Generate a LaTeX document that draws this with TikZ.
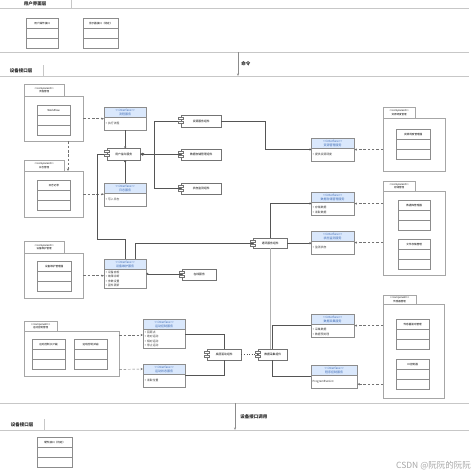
\documentclass[tikz,border=0pt]{standalone}
\usepackage{fontspec}
\setmainfont{Noto Sans CJK SC}
\usetikzlibrary{positioning,calc,arrows.meta,shapes.multipart}
\setlength\parindent{0pt}

\definecolor{ifblue}{RGB}{218,232,252}
\definecolor{iftext}{RGB}{60,105,180}
\definecolor{linegray}{RGB}{85,85,85}

\newcommand\clsstrut{\rule[-1.5pt]{0pt}{5.5pt}}
\newcommand\clsparts[1]{\clsstrut #1\nodepart{two}\clsstrut\nodepart{three}\clsstrut}
\newcommand\ifacehead[1]{\fontsize{3}{3.8}\selectfont\color{iftext}%
  \makebox[\hsize][c]{<{}<interface>{}>}\par\makebox[\hsize][c]{#1}}
\newcommand\onestrut{\rule[-4pt]{0pt}{9pt}}
\newcommand\compicon[1]{%
  \draw[cmpicon] ($(#1.north west)+(-2.5,2)$) rectangle ++(5,2.2);
  \draw[cmpicon] ($(#1.north west)+(-2.5,6)$) rectangle ++(5,2.2);}

\begin{document}
\begin{tikzpicture}[x=1pt,y=-1pt,
   font=\fontsize{3}{3.6}\selectfont,
   band/.style={draw=black!22, line width=0.9pt},
   bandlbl/.style={font=\fontsize{4.5}{5}\selectfont\bfseries, text=black!85, inner sep=0},
   cls/.style={rectangle split, rectangle split parts=3, draw=black!45, line width=0.4pt,
	 fill=white, text width=#1, inner xsep=1pt, inner ysep=2pt, align=center,
	 anchor=north west, font=\fontsize{2.6}{3}\selectfont},
   cls/.default=31pt,
   iface/.style={rectangle split, rectangle split parts=2, draw=black!45, line width=0.4pt,
	 rectangle split part fill={ifblue,white}, text width=#1, inner xsep=1.5pt, inner ysep=1.5pt,
	 align=left, anchor=north west, font=\fontsize{2.8}{4.3}\selectfont},
   iface/.default=39pt,
   pkgbody/.style={draw=black!35, line width=0.4pt, anchor=north west, inner sep=0},
   pkgtab/.style={draw=black!35, line width=0.4pt, anchor=north west, inner sep=0,
	 align=center, font=\fontsize{2.5}{3.2}\selectfont},
   comp/.style={draw=black!55, line width=0.4pt, fill=white, anchor=north west, inner sep=0,
	 font=\fontsize{2.8}{3}\selectfont},
   cmpicon/.style={draw=black!55, line width=0.35pt, fill=white},
   link/.style={draw=linegray, line width=0.55pt},
   dep/.style={draw=black!55, line width=0.45pt, dash pattern=on 2.5pt off 1.8pt,
	 -{Stealth[length=2.5pt,width=2.2pt]}},
   lolli/.style={-{Circle[open,length=2pt]}},
   flow/.style={draw=black!45, line width=0.5pt, -{Stealth[length=2.5pt,width=2pt]}}]
\useasboundingbox (0,0) rectangle (474,474);

% layer bands
\draw[band] (0,8) -- (469,8);
\draw[band] (0,52) -- (469,52);
\draw[band] (0,76) -- (469,76);
\draw[band] (0,403) -- (469,403);
\draw[band] (0,430) -- (469,430);
\draw[band] (71,0) -- (71,8);
\draw[band] (43,65) -- (43,76);
\draw[band] (44,419) -- (44,430);
\node[bandlbl] (uilbl) at (35,4) {用户界面层};
\node[bandlbl] (devlbl) at (21,71) {设备接口层};
\node[bandlbl] (devlbl2) at (22,425) {设备接口层};
\coordinate (cmdsrc) at (238,52);
\coordinate (cmddst) at (238,76);
\draw[flow] (cmdsrc) -- node[right=3pt, bandlbl] (cmdlbl) {命令} (cmddst);
\coordinate (callsrc) at (235,403);
\coordinate (calldst) at (235,430);
\draw[flow] (callsrc) -- node[right=5pt, bandlbl] (calllbl) {设备接口调用} (calldst);

% user interface / hardware classes
\node[cls=30pt] (uiop) at (26,18) {\clsparts{用户操作接口}};
\node[cls=33pt] (uidisp) at (83,18) {\clsparts{显示器接口（待定）}};
\node[cls=33pt] (hwif) at (37,437) {\clsparts{硬件接口（待定）}};

% left packages
\node[pkgtab, minimum width=40, minimum height=12] (flowtab) at (24,84) {<{}<component>{}>\\流程管理};
\node[pkgbody, minimum width=59, minimum height=45] (flowpkg) at (24,96) {};
\node[cls] (wfcls) at (37,105) {\clsparts{WorkFlow}};
\node[pkgtab, minimum width=40, minimum height=11] (logtab) at (24,160) {<{}<component>{}>\\日志管理};
\node[pkgbody, minimum width=59, minimum height=46] (logpkg) at (24,171) {};
\node[cls] (logcls) at (37,180) {\clsparts{日志记录}};
\node[pkgtab, minimum width=40, minimum height=12] (mainttab) at (24,241) {<{}<component>{}>\\设备维护管理};
\node[pkgbody, minimum width=59, minimum height=45] (maintpkg) at (24,253) {};
\node[cls=32pt] (maintcls) at (37,261) {\clsparts{设备维护管理器}};
\node[pkgtab, minimum width=33, minimum height=10] (motiontab) at (24,321) {<{}<component>{}>\\运动控制管理};
\node[pkgbody, minimum width=95, minimum height=45] (motionpkg) at (24,331) {};
\node[cls] (xycls) at (32,339) {\clsparts{运动控制(X/Y轴)}};
\node[cls] (zcls) at (74,339) {\clsparts{运动控制(Z轴)}};

% right packages
\node[pkgtab, minimum width=32, minimum height=11] (restab) at (383,107) {<{}<component>{}>\\资源调度管理};
\node[pkgbody, minimum width=62, minimum height=53] (respkg) at (383,118) {};
\node[cls=32pt] (rescls) at (396,129) {\clsparts{资源调度管理器}};
\node[pkgtab, minimum width=32, minimum height=10] (storetab) at (383,181) {<{}<component>{}>\\存储管理};
\node[pkgbody, minimum width=62, minimum height=84] (storepkg) at (383,191) {};
\node[cls=30pt] (dbcls) at (398,200) {\clsparts{数据库管理器}};
\node[cls=30pt] (filecls) at (398,239) {\clsparts{文件存储管理}};
\node[pkgtab, minimum width=33, minimum height=9] (sensortab) at (383,295) {<{}<component>{}>\\传感器管理};
\node[pkgbody, minimum width=61, minimum height=94] (sensorpkg) at (383,304) {};
\node[cls] (sensorcls) at (396,319) {\clsparts{传感器驱动管理}};
\node[cls] (iocls) at (396,359) {\clsparts{IO控制器}};

% interfaces
\node[iface] (flowif) at (104,107) {\ifacehead{流程服务}
  \nodepart{two}\color{black!80}\onestrut + 执行流程};
\node[iface] (logif) at (104,183) {\ifacehead{日志服务}
  \nodepart{two}\color{black!80}\onestrut + 写入日志};
\node[iface] (maintif) at (104,259) {\ifacehead{设备维护服务}
  \nodepart{two}\color{black!80}+ 设备自检\par + 故障诊断\par + 参数设置\par + 固件更新};
\node[iface] (motionif) at (143,319) {\ifacehead{运动控制服务}
  \nodepart{two}\color{black!80}+ 回原点\par + 绝对运动\par + 相对运动\par + 停止运动};
\node[iface] (mstateif) at (143,364) {\ifacehead{运动状态服务}
  \nodepart{two}\color{black!80}\onestrut + 读取位置};
\node[iface=40pt] (resif) at (311,138) {\ifacehead{资源管理服务}
  \nodepart{two}\color{black!80}\onestrut + 提供资源调度};
\node[iface=40pt] (storeif) at (311,192) {\ifacehead{数据存储管理服务}
  \nodepart{two}\color{black!80}\rule{0pt}{4.5pt}+ 存储数据\par + 读取数据};
\node[iface=40pt] (moniif) at (311,231) {\ifacehead{状态监测服务}
  \nodepart{two}\color{black!80}\onestrut + 监测状态};
\node[iface=40pt] (acqif) at (311,314) {\ifacehead{数据采集服务}
  \nodepart{two}\color{black!80}\rule{0pt}{4.5pt}+ 采集数据\par + 数据预处理};
\node[iface=43pt] (progif) at (311,365) {\ifacehead{程序控制服务}
  \nodepart{two}\color{black!80}\onestrut ProgramRunList};

% components
\node[comp, minimum width=33, minimum height=12] (usrsvc) at (107,148) {用户指令服务};
\node[comp, minimum width=40, minimum height=12] (rescmp) at (181,115) {资源服务组件};
\node[comp, minimum width=40, minimum height=11] (storecmp) at (181,149) {数据存储管理组件};
\node[comp, minimum width=40, minimum height=11] (monicmp) at (181,183) {状态监测组件};
\node[comp, minimum width=34, minimum height=10] (commcmp) at (253,238) {通讯服务组件};
\node[comp, minimum width=34, minimum height=11] (onlinecmp) at (182,269) {在线服务};
\node[comp, minimum width=34, minimum height=11] (drvcmp) at (207,349) {底层驱动组件};
\node[comp, minimum width=29, minimum height=11] (acqcmp) at (258,349) {数据采集组件};

% dependencies
\draw[dep] (flowpkg.east) -- (flowpkg.east -| flowif.west);
\draw[dep] ($(flowpkg.south west)+(44,0)$) -- ($(logpkg.north west)+(44,0)$);
\draw[dep] (logpkg.east) -- (logpkg.east -| logif.west);
\draw[dep] (maintpkg.east) -- (maintpkg.east -| maintif.west);
\draw[dep] ($(motionpkg.north east)+(0,4)$) -- ($(motionif.north west)+(0,16)$);
\draw[dep] ($(motionpkg.south east)+(0,-7)$) -- ($(mstateif.north west)+(0,5)$);
\draw[dep] (respkg.west |- resif.east) -- (resif.east);
\draw[dep] (storepkg.west |- storeif.east) -- (storeif.east);
\draw[dep] (storepkg.west |- moniif.east) -- (moniif.east);
\draw[dep] (sensorpkg.west |- acqif.east) -- (acqif.east);
\draw[dep] ($(sensorpkg.west |- progif.south east)+(0,-4)$) -- ($(progif.south east)+(0,-4)$);

% links
\coordinate (busx) at (154,154);
\draw[link,lolli] (flowif.south) -- (flowif.south |- usrsvc.north);
\draw[link,lolli] (logif.north) -- (logif.north |- usrsvc.south);
\draw[link] (rescmp.west) -| (busx |- monicmp.west) -- (monicmp.west);
\draw[link] (storecmp.west) -- (storecmp.west -| busx);
\draw[link,{Diamond[fill=linegray,length=4.5pt,width=3pt]}-] (usrsvc.east) -- (usrsvc.east -| busx);
\draw[link,lolli] (rescmp.east) -- ++(44,0) |- (resif.west);
\draw[link,lolli] (commcmp.north) |- (storeif.west);
\draw[link,lolli] (commcmp.east) -- (commcmp.east -| moniif.west);
\draw[link] ($(maintif.north)+(10,0)$) |- (commcmp.west);
\draw[link] (usrsvc.west) -- ++(-10,0) |- ($(maintif.north)+(0,-20)$) -- (maintif.north);
\draw[link,draw=black!30,line width=0.4pt] (commcmp.south) -- (commcmp.south |- acqcmp.north);
\draw[link,{Circle[open,length=2pt]}-] (maintif.east) -- (maintif.east -| onlinecmp.west);
\draw[link] (motionif.east) -| (drvcmp.north);
\draw[link] (drvcmp.south) |- (mstateif.east);
\draw[link,dotted] (drvcmp.east) -- (acqcmp.west);
\draw[link] (acqcmp.north) |- (acqif.west);
\draw[link] (acqcmp.south) |- (progif.west);

% component icons on top
\compicon{usrsvc}
\compicon{rescmp}
\compicon{storecmp}
\compicon{monicmp}
\compicon{commcmp}
\compicon{onlinecmp}
\compicon{drvcmp}
\compicon{acqcmp}

\node[font=\fontsize{8.5}{9}\selectfont, text=black!35, anchor=east, inner sep=0] (wmark) at (471,466) {CSDN @阮阮的阮阮};
\end{tikzpicture}
\end{document}
